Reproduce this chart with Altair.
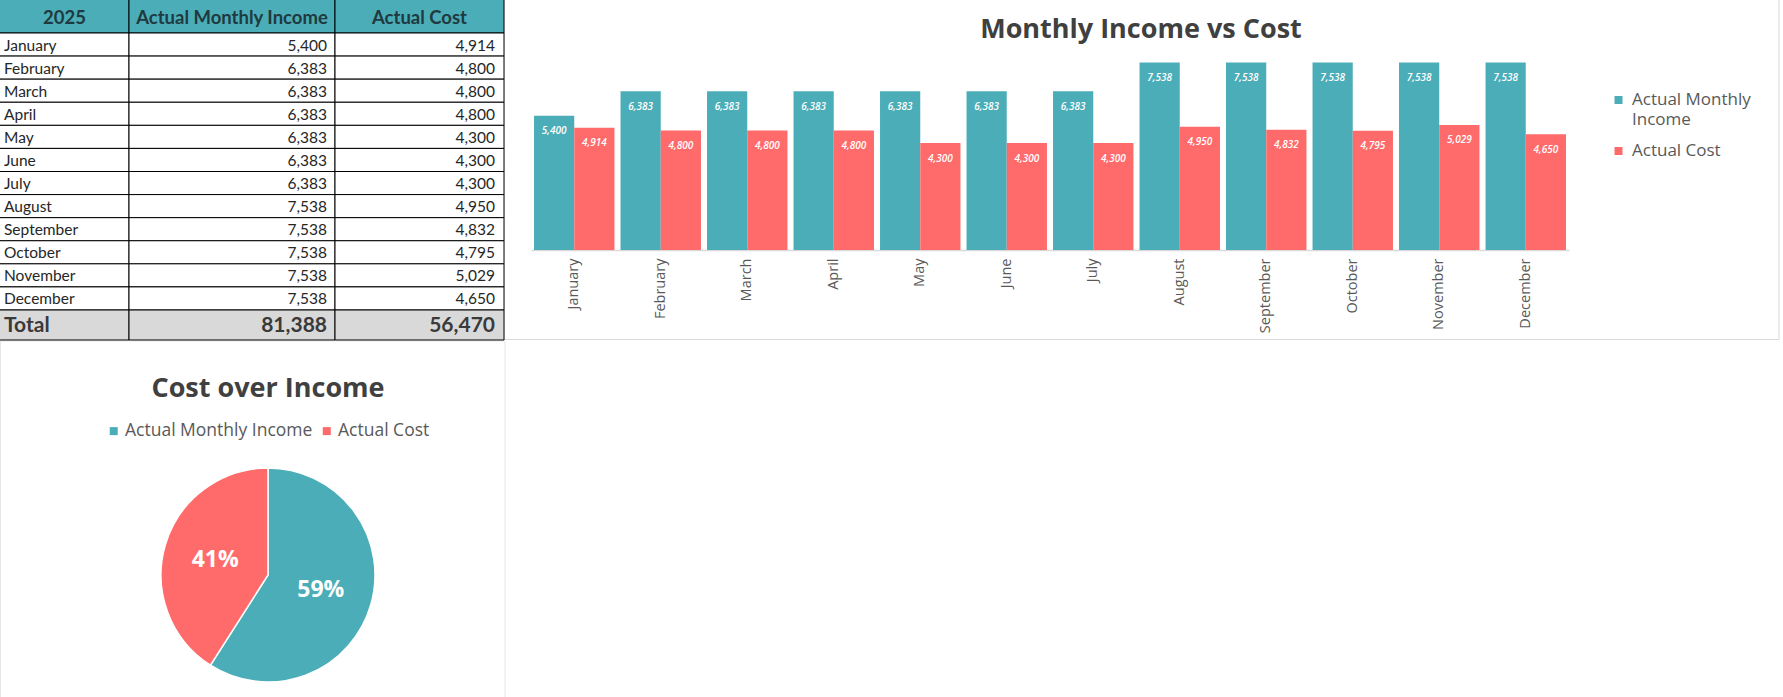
import altair as alt
import pandas as pd

# ---------------- data ----------------
months = ["January", "February", "March", "April", "May", "June", "July",
          "August", "September", "October", "November", "December"]
income = [5400, 6383, 6383, 6383, 6383, 6383, 6383, 7538, 7538, 7538, 7538, 7538]
cost = [4914, 4800, 4800, 4800, 4300, 4300, 4300, 4950, 4832, 4795, 5029, 4650]
series = ["Actual Monthly Income", "Actual Cost"]
year_label = "2025"
total_label = "Total"
bar_title = "Monthly Income vs Cost"
pie_title = "Cost over Income"

# ---------------- style / layout ----------------
W, H = 1783, 697
palette = ["#4BADB7", "#FF6B6B"]
TITLE_FONT = "Open Sans"
TABLE_FONT = "Lato"
GRAY_TXT = "#595959"
DARK_TXT = "#404040"

COLS = [(-1, 129), (129, 335), (335, 504)]
HEADER_Y = (-1, 33)
BODY_Y = (33, 310)
TOTAL_Y = (310, 340)

BAR_X_RANGE = [531, 1569]
BAR_Y_RANGE = [250, 51]
BAR_BASE = 250

PIE_CX, PIE_CY, PIE_R = 268, 575, 107

# ---------------- frames ----------------
blank = alt.Data(values=[{}])
bar_frame = alt.Chart(blank).mark_rect(fillOpacity=0, stroke="#D9D9D9", strokeWidth=1).encode(
    x=alt.value(504), x2=alt.value(1779), y=alt.value(-2), y2=alt.value(339.5))
pie_frame = alt.Chart(blank).mark_rect(fillOpacity=0, stroke="#E6E6E6", strokeWidth=1).encode(
    x=alt.value(0.5), x2=alt.value(505), y=alt.value(341), y2=alt.value(H + 2))

# ---------------- table ----------------
body = pd.DataFrame({"month": months, "income": income, "cost": cost})
totals = [sum(income), sum(cost)]
headers = [year_label] + series
total_df = pd.DataFrame({"label": [total_label], "income": [totals[0]], "cost": [totals[1]]})

row_y = alt.Y("month:N", sort=months,
              scale=alt.Scale(domain=months, range=list(BODY_Y), paddingInner=0, paddingOuter=0),
              axis=None)

table_layers = []
for i, (l, r) in enumerate(COLS):
    hdr = pd.DataFrame({"h": [headers[i]]})
    table_layers.append(
        alt.Chart(hdr).mark_rect(fill="#4BADB7", stroke="black", strokeWidth=1).encode(
            x=alt.value(l), x2=alt.value(r), y=alt.value(HEADER_Y[0]), y2=alt.value(HEADER_Y[1])))
    table_layers.append(
        alt.Chart(hdr).mark_text(font=TABLE_FONT, fontWeight="bold", fontSize=18.5, color="#1F3A40",
                                 align="center", baseline="middle").encode(
            x=alt.value((max(l, 0) + r) / 2), y=alt.value(18), text="h:N"))
    table_layers.append(
        alt.Chart(body).mark_rect(fill="white", stroke="black", strokeWidth=1).encode(
            x=alt.value(l), x2=alt.value(r), y=row_y))
    table_layers.append(
        alt.Chart(total_df).mark_rect(fill="#D9D9D9", stroke="black", strokeWidth=1).encode(
            x=alt.value(l), x2=alt.value(r), y=alt.value(TOTAL_Y[0]), y2=alt.value(TOTAL_Y[1])))

body_font = dict(font=TABLE_FONT, fontSize=15.5, color="#262626", baseline="middle", dy=1)
table_layers.append(alt.Chart(body).mark_text(align="left", **body_font).encode(
    x=alt.value(4), y=row_y, text="month:N"))
table_layers.append(alt.Chart(body).mark_text(align="right", **body_font).encode(
    x=alt.value(COLS[1][1] - 8), y=row_y, text=alt.Text("income:Q", format=",")))
table_layers.append(alt.Chart(body).mark_text(align="right", **body_font).encode(
    x=alt.value(COLS[2][1] - 9), y=row_y, text=alt.Text("cost:Q", format=",")))

tot_font = dict(font=TABLE_FONT, fontSize=21, fontWeight="bold", color="#3A3A3A", baseline="middle")
ty = (TOTAL_Y[0] + TOTAL_Y[1]) / 2 + 1
table_layers.append(alt.Chart(total_df).mark_text(align="left", **tot_font).encode(
    x=alt.value(4), y=alt.value(ty), text="label:N"))
table_layers.append(alt.Chart(total_df).mark_text(align="right", **tot_font).encode(
    x=alt.value(COLS[1][1] - 8), y=alt.value(ty), text=alt.Text("income:Q", format=",")))
table_layers.append(alt.Chart(total_df).mark_text(align="right", **tot_font).encode(
    x=alt.value(COLS[2][1] - 9), y=alt.value(ty), text=alt.Text("cost:Q", format=",")))

table = alt.layer(*table_layers)

# ---------------- bar chart ----------------
long_df = pd.DataFrame({
    "month": months * 2,
    "series": [series[0]] * len(months) + [series[1]] * len(months),
    "value": income + cost,
})

x_enc = alt.X("month:N", sort=months,
              scale=alt.Scale(domain=months, range=BAR_X_RANGE, paddingInner=0.07, paddingOuter=0.035),
              axis=alt.Axis(orient="bottom", offset=BAR_BASE - H, labelAngle=-90,
                            labelFont=TITLE_FONT, labelFontSize=14.5, labelColor=GRAY_TXT,
                            labelPadding=8, ticks=False, tickSize=0, domainColor="#D9D9D9",
                            domainWidth=1.5, title=None, grid=False))
y_enc = alt.Y("value:Q", scale=alt.Scale(domain=[0, 8000], range=BAR_Y_RANGE, nice=False), axis=None)
xoff = alt.XOffset("series:N", sort=series,
                   scale=alt.Scale(domain=series, paddingInner=0, paddingOuter=0))
color_bar = alt.Color("series:N", scale=alt.Scale(domain=series, range=palette), legend=None)

bars = alt.Chart(long_df).mark_bar().encode(x=x_enc, y=y_enc, xOffset=xoff, color=color_bar)
bar_labels = alt.Chart(long_df).mark_text(
    font=TITLE_FONT, fontSize=10, fontWeight=600, fontStyle="italic", color="white",
    align="center", baseline="middle", dy=15.5).encode(
    x=x_enc, y=y_enc, xOffset=xoff, text=alt.Text("value:Q", format=","))
bar_layer = alt.layer(bars, bar_labels)

bar_title_mark = alt.Chart(pd.DataFrame({"t": [bar_title]})).mark_text(
    font=TITLE_FONT, fontWeight="bold", fontSize=27, color=DARK_TXT,
    align="center", baseline="middle").encode(x=alt.value(1141), y=alt.value(29.5), text="t:N")

# manual legend for the bar chart
leg_df = pd.DataFrame({"series": series})
leg_y = alt.Y("series:N", sort=series,
              scale=alt.Scale(domain=series, range=[100, 151], padding=0), axis=None)
leg_sq = alt.Chart(leg_df).mark_square(size=64, opacity=1).encode(
    x=alt.value(1618.5), y=leg_y,
    color=alt.Color("series:N", scale=alt.Scale(domain=series, range=palette), legend=None))
leg_tx = alt.Chart(leg_df).transform_calculate(
    lbl="replace(datum.series, ' Income', '\\nIncome')").mark_text(
    align="left", baseline="top", lineBreak="\n", lineHeight=20, dy=-8,
    font=TITLE_FONT, fontSize=17, color=GRAY_TXT).encode(
    x=alt.value(1632), y=leg_y, text="lbl:N")
bar_legend = alt.layer(leg_sq, leg_tx)

# ---------------- pie chart ----------------
pie_df = pd.DataFrame({"series": series, "value": totals, "k": list(range(len(series)))})
pie_base = alt.Chart(pie_df).transform_joinaggregate(total="sum(value)").transform_calculate(
    pct="format(datum.value / datum.total, '.0%')")
theta = alt.Theta("value:Q", stack=True)
arc = pie_base.mark_arc(radius=PIE_R, stroke="white", strokeWidth=1.5).encode(
    theta=theta, order=alt.Order("k:Q"),
    color=alt.Color("series:N", scale=alt.Scale(domain=series, range=palette),
                    legend=alt.Legend(orient="none", legendX=105, legendY=422,
                                      direction="horizontal", title=None,
                                      symbolType="square", symbolSize=64, symbolStrokeWidth=0,
                                      labelFont=TITLE_FONT, labelFontSize=17.5, labelColor=GRAY_TXT,
                                      labelOffset=2.5, columnPadding=5, labelLimit=400, padding=0)),
    x=alt.value(PIE_CX), y=alt.value(PIE_CY))
pie_txt = pie_base.mark_text(radius=55, font=TITLE_FONT, fontWeight="bold", fontSize=23,
                             color="white", align="center", baseline="middle").encode(
    theta=theta, order=alt.Order("k:Q"), detail="series:N", text="pct:N",
    x=alt.value(PIE_CX), y=alt.value(PIE_CY))
pie_layer = alt.layer(arc, pie_txt)

pie_title_mark = alt.Chart(pd.DataFrame({"t": [pie_title]})).mark_text(
    font=TITLE_FONT, fontWeight="bold", fontSize=27, color=DARK_TXT,
    align="center", baseline="middle").encode(x=alt.value(268), y=alt.value(389), text="t:N")

chart = alt.layer(
    bar_frame, pie_frame, table, bar_layer, bar_title_mark, bar_legend, pie_layer, pie_title_mark
).resolve_scale(
    x="independent", y="independent", color="independent", xOffset="independent"
).properties(
    width=W, height=H, autosize=alt.AutoSizeParams(type="none"), padding=0
).configure_view(stroke=None)

chart.save("out.html", embed_options={"renderer": "svg", "actions": False})
